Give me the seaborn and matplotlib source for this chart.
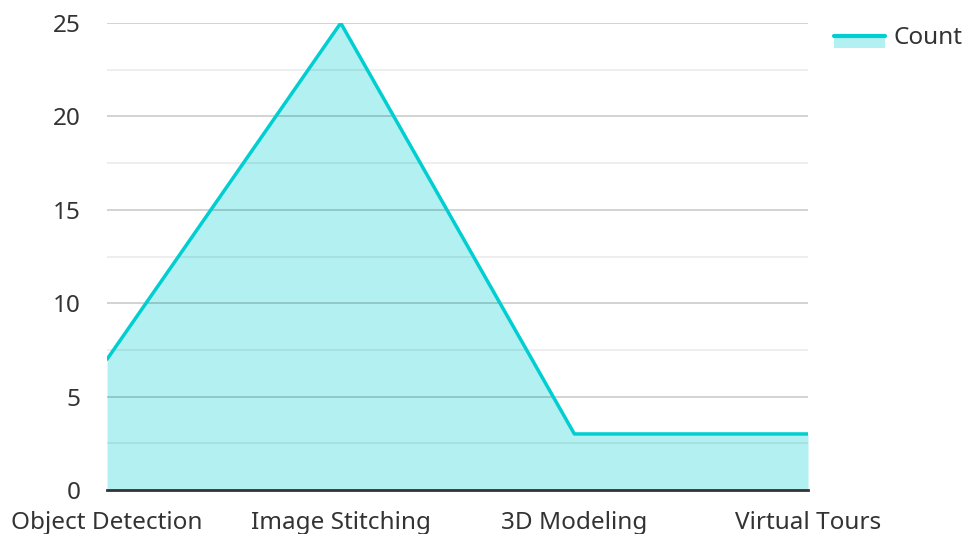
import numpy as np
import pandas as pd
import matplotlib as mpl
import matplotlib.pyplot as plt
from matplotlib.patches import Rectangle
from matplotlib.lines import Line2D
import seaborn as sns

# data
categories = ["Object Detection", "Image Stitching", "3D Modeling", "Virtual Tours"]
counts = [7, 25, 3, 3]
y_ticks = [0, 5, 10, 15, 20, 25]

LINE_COLOR = "#00CED1"
TEXT_COLOR = "#333333"
FS = 17.5

sns.set_theme(style="white")
plt.rcParams["font.family"] = ["Noto Sans", "DejaVu Sans"]

df = pd.DataFrame({"category": categories, "count": counts})
df["pos"] = np.arange(len(df))

fig = plt.figure(figsize=(9.67, 5.34), dpi=100)
ax = fig.add_axes([0.1107, 0.0824, 0.7249, 0.8745])

# area + line
ax.fill_between(df["pos"], df["count"], 0, color=LINE_COLOR, alpha=0.3, linewidth=0, zorder=1)
sns.lineplot(data=df, x="pos", y="count", ax=ax, color=LINE_COLOR, linewidth=2.5, zorder=3)

# gridlines (major every 5, minor in between)
for v in np.arange(2.5, 25.1, 2.5):
    if v % 5 == 0:
        ax.axhline(v, color="black", alpha=0.2, linewidth=1.2, zorder=2)
    else:
        ax.axhline(v, color="black", alpha=0.08, linewidth=1.2, zorder=2)

ax.set_xlim(0, len(categories) - 1)
ax.set_ylim(0, 25)
ax.set_xticks(df["pos"])
ax.set_xticklabels(categories)
ax.set_yticks(y_ticks)
ax.set_xlabel("")
ax.set_ylabel("")
ax.tick_params(axis="both", labelsize=FS, labelcolor=TEXT_COLOR, length=0)
ax.tick_params(axis="y", pad=19)
ax.tick_params(axis="x", pad=15)

for side in ["top", "right", "left"]:
    ax.spines[side].set_visible(False)
ax.spines["bottom"].set_color("#333333")
ax.spines["bottom"].set_linewidth(2)
ax.spines["bottom"].set_zorder(4)


# legend key: light fill with the line along its top edge
class AreaKey:
    def legend_artist(self, legend, orig_handle, fontsize, handlebox):
        x0, y0 = handlebox.xdescent, handlebox.ydescent - 3
        w, h = handlebox.width, handlebox.height
        rect = Rectangle((x0, y0), w, h * 0.75, facecolor=LINE_COLOR, alpha=0.3,
                         linewidth=0, transform=handlebox.get_transform())
        line = Line2D([x0, x0 + w], [y0 + h * 0.75, y0 + h * 0.75], color=LINE_COLOR,
                      linewidth=3, transform=handlebox.get_transform())
        handlebox.add_artist(rect)
        handlebox.add_artist(line)
        return rect


key = Rectangle((0, 0), 1, 1)
fig.legend([key], ["Count"], loc="upper left", bbox_to_anchor=(0.8396, 0.992),
           frameon=False, fontsize=FS, handlelength=2.1, handletextpad=0.35,
           handler_map={Rectangle: AreaKey()}, labelcolor=TEXT_COLOR)

fig.savefig("out.png", dpi=100)
